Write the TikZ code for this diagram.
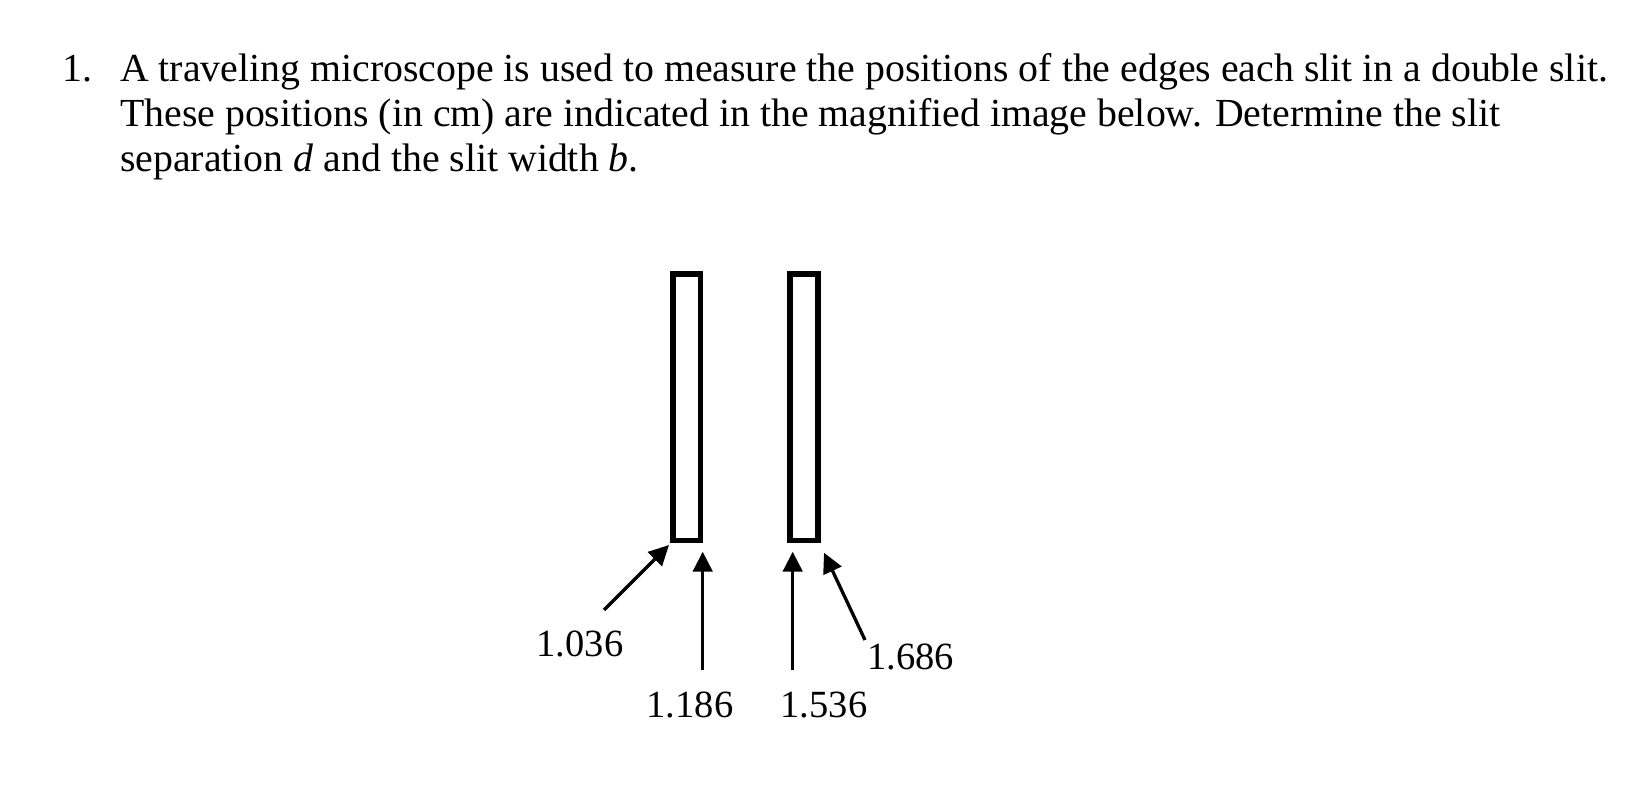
\documentclass[tikz,border=0pt]{standalone}
\usepackage{fontspec}
\setmainfont{Liberation Serif}
\usetikzlibrary{arrows.meta}
\begin{document}
\begin{tikzpicture}[x=1pt,y=-1pt,
  txt/.style={anchor=base west,inner sep=0pt,font=\fontsize{39.8}{46}\selectfont},
  lbl/.style={anchor=base,inner sep=0pt,font=\fontsize{38.5}{46}\selectfont},
  slit/.style={draw,line width=5.7pt,minimum width=27.8pt,minimum height=266.5pt,inner sep=0pt,outer sep=0pt},
  ptr/.style={line width=3.3pt,-{Triangle[length=20pt,width=19.5pt]}}]
\useasboundingbox (0,0) rectangle (1646,802);
\node[txt] (num) at (62.7,82) {1.};
\node[txt] (l1) at (120,82) {A traveling microscope is used to measure the positions of the edges each slit in a double slit.};
\node[txt] (l2) at (120,126.5) {These positions (in cm) are indicated in the magnified image below. Determine the slit};
\node[txt] (l3) at (120,172) {separation \textit{d} and the slit width \textit{b}.};
\node[slit] (s1) at (686.6,407.3) {};
\node[slit] (s2) at (804.2,407.3) {};
\node[lbl] (a) at (580,656) {1.036};
\node[lbl] (b) at (690,717) {1.186};
\node[lbl] (c) at (824,717) {1.536};
\node[lbl] (e) at (910.5,669) {1.686};
\coordinate (at) at (604,610);
\coordinate (ah) at (669,545);
\coordinate (bt) at (702.7,670);
\coordinate (bh) at (702.7,551.7);
\coordinate (ct) at (792.7,670);
\coordinate (ch) at (792.7,551.7);
\coordinate (et) at (865,640);
\coordinate (eh) at (824,552.7);
\draw[ptr] (at) -- (ah);
\draw[ptr] (bt) -- (bh);
\draw[ptr] (ct) -- (ch);
\draw[ptr] (et) -- (eh);
\end{tikzpicture}
\end{document}
